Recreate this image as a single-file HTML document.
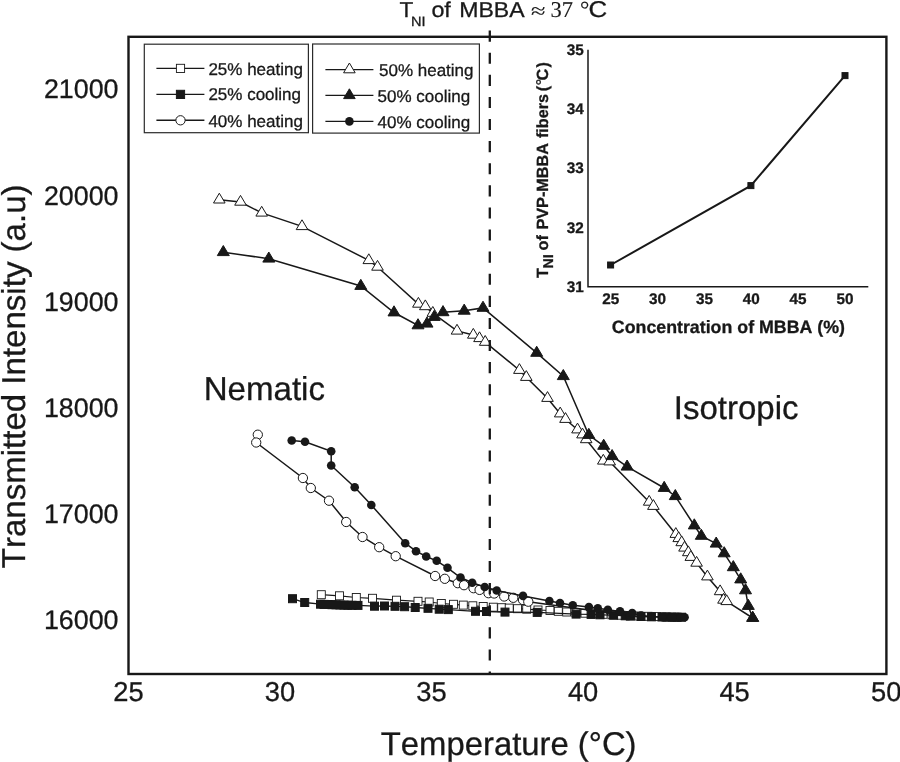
<!DOCTYPE html>
<html lang="en"><head><meta charset="utf-8"><title>Transmitted intensity vs temperature</title>
<style>
html,body{margin:0;padding:0;background:#fff;}
body{width:900px;height:762px;overflow:hidden;}
svg{display:block;}
text{font-family:"Liberation Sans",Arial,Helvetica,sans-serif;fill:#181818;font-kerning:none;text-rendering:geometricPrecision;stroke:#181818;stroke-width:0.3px;}
.serif{font-family:"Liberation Serif","Times New Roman",serif;stroke-width:0.12px;}
.b{font-weight:bold;}
</style></head><body>
<svg width="900" height="762" viewBox="0 0 900 762">
<rect x="0" y="0" width="900" height="762" fill="#fff"/>
<!-- main plot frame -->
<rect x="128.5" y="36.8" width="757.9" height="637.2" fill="none" stroke="#181818" stroke-width="2.4"/>
<!-- top annotation -->
<text transform="translate(399.6 16.8) scale(1.050 1)" font-size="21.50">T</text>
<text transform="translate(410.9 25.7) scale(1.070 1)" font-size="13.60">NI</text>
<text transform="translate(431.4 16.9) scale(1.090 1)" font-size="21.40">of</text>
<text transform="translate(459.2 16.8) scale(1.073 1)" font-size="21.50">MBBA</text>
<text transform="translate(531 18.4) scale(1.237 1)" font-size="21.40" class="serif">≈</text>
<text transform="translate(550.4 16.9) scale(0.992 1)" font-size="22.70" class="serif">37</text>
<text transform="translate(579.9 17) scale(1.000 1)" font-size="23.30" class="serif">°</text>
<text transform="translate(588.4 17.1) scale(1.134 1)" font-size="22.80">C</text>
<!-- y axis tick labels -->
<text x="118.5" y="98.4" font-size="26.8" text-anchor="end">21000</text>
<text x="118.5" y="204.6" font-size="26.8" text-anchor="end">20000</text>
<text x="118.5" y="310.7" font-size="26.8" text-anchor="end">19000</text>
<text x="118.5" y="416.9" font-size="26.8" text-anchor="end">18000</text>
<text x="118.5" y="523" font-size="26.8" text-anchor="end">17000</text>
<text x="118.5" y="629.1" font-size="26.8" text-anchor="end">16000</text>
<!-- x axis tick labels -->
<text x="128.4" y="700.8" font-size="27.3" text-anchor="middle">25</text>
<text x="280" y="700.8" font-size="27.3" text-anchor="middle">30</text>
<text x="431.5" y="700.8" font-size="27.3" text-anchor="middle">35</text>
<text x="583.1" y="700.8" font-size="27.3" text-anchor="middle">40</text>
<text x="734.6" y="700.8" font-size="27.3" text-anchor="middle">45</text>
<text x="886.2" y="700.8" font-size="27.3" text-anchor="middle">50</text>
<!-- axis titles -->
<text x="380.8" y="755" font-size="32.85">Temperature (°C)</text>
<text transform="translate(25.2 568.3) rotate(-90)" font-size="33.05">Transmitted Intensity (a.u)</text>
<text x="203.7" y="400" font-size="33.1">Nematic</text>
<text x="673.8" y="418.7" font-size="33">Isotropic</text>
<!-- legend boxes -->
<rect x="144.3" y="44.2" width="164.1" height="88.5" fill="#fff" stroke="#2b2b2b" stroke-width="1.2"/>
<rect x="312.6" y="44" width="166.8" height="89.1" fill="#fff" stroke="#2b2b2b" stroke-width="1.2"/>
<line x1="156.4" y1="68.4" x2="204.4" y2="68.4" stroke="#181818" stroke-width="1.4"/>
<rect x="176.4" y="64.3" width="8.2" height="8.2" fill="#fff" stroke="#181818" stroke-width="0.9"/>
<text x="208.4" y="74.7" font-size="17">25% heating</text>
<line x1="156.4" y1="94.4" x2="204.4" y2="94.4" stroke="#181818" stroke-width="1.4"/>
<rect x="176.4" y="90.3" width="8.2" height="8.2" fill="#181818" stroke="#181818" stroke-width="1"/>
<text x="208.4" y="100.1" font-size="17">25% cooling</text>
<line x1="156.4" y1="120.3" x2="204.4" y2="120.3" stroke="#181818" stroke-width="1.4"/>
<circle cx="180.5" cy="120.3" r="4.65" fill="#fff" stroke="#181818" stroke-width="1"/>
<text x="208.4" y="126.5" font-size="17">40% heating</text>
<line x1="325.4" y1="69.6" x2="373.4" y2="69.6" stroke="#181818" stroke-width="1.4"/>
<polygon points="349.4,63 343.6,72.8 355.2,72.8" fill="#fff" stroke="#181818" stroke-width="1"/>
<text x="379" y="76.2" font-size="17">50% heating</text>
<line x1="325.4" y1="95.4" x2="373.4" y2="95.4" stroke="#181818" stroke-width="1.4"/>
<polygon points="349.4,88.8 343.6,98.6 355.2,98.6" fill="#181818" stroke="#181818" stroke-width="1"/>
<text x="377.6" y="101.6" font-size="17">50% cooling</text>
<line x1="325.4" y1="121.4" x2="373.4" y2="121.4" stroke="#181818" stroke-width="1.4"/>
<circle cx="349.4" cy="121.4" r="4.3" fill="#181818"/>
<text x="377.6" y="127.6" font-size="17">40% cooling</text>
<!-- 25% heating -->
<g>
<polyline fill="none" stroke="#181818" stroke-width="1.25" points="321.3,594.7 339.5,595.8 356.3,597.5 372.5,598.3 396.5,600.2 418,601.3 429.2,602 441.3,603.5 453.5,604.3 463.3,605.1 472.8,605.8 483.2,606.5 493.3,607.2 501.7,607.7 509.2,608.1 517.5,608.7 526.7,609.2 538,610 550,610.5 558.3,611.3 566.7,612 576,612.6 585,613.2 594,613.8 603,614.3 612,614.8 621,615.2 630,615.6 639,616 648,616.3 657,616.6 666,616.9 675,617.2"/>
<rect x="317.3" y="590.7" width="8" height="8" fill="#fff" stroke="#181818" stroke-width="0.9"/>
<rect x="335.5" y="591.8" width="8" height="8" fill="#fff" stroke="#181818" stroke-width="0.9"/>
<rect x="352.3" y="593.5" width="8" height="8" fill="#fff" stroke="#181818" stroke-width="0.9"/>
<rect x="368.5" y="594.3" width="8" height="8" fill="#fff" stroke="#181818" stroke-width="0.9"/>
<rect x="392.5" y="596.2" width="8" height="8" fill="#fff" stroke="#181818" stroke-width="0.9"/>
<rect x="414" y="597.3" width="8" height="8" fill="#fff" stroke="#181818" stroke-width="0.9"/>
<rect x="425.2" y="598" width="8" height="8" fill="#fff" stroke="#181818" stroke-width="0.9"/>
<rect x="437.3" y="599.5" width="8" height="8" fill="#fff" stroke="#181818" stroke-width="0.9"/>
<rect x="449.5" y="600.3" width="8" height="8" fill="#fff" stroke="#181818" stroke-width="0.9"/>
<rect x="459.3" y="601.1" width="8" height="8" fill="#fff" stroke="#181818" stroke-width="0.9"/>
<rect x="468.8" y="601.8" width="8" height="8" fill="#fff" stroke="#181818" stroke-width="0.9"/>
<rect x="479.2" y="602.5" width="8" height="8" fill="#fff" stroke="#181818" stroke-width="0.9"/>
<rect x="489.3" y="603.2" width="8" height="8" fill="#fff" stroke="#181818" stroke-width="0.9"/>
<rect x="497.7" y="603.7" width="8" height="8" fill="#fff" stroke="#181818" stroke-width="0.9"/>
<rect x="505.2" y="604.1" width="8" height="8" fill="#fff" stroke="#181818" stroke-width="0.9"/>
<rect x="513.5" y="604.7" width="8" height="8" fill="#fff" stroke="#181818" stroke-width="0.9"/>
<rect x="522.7" y="605.2" width="8" height="8" fill="#fff" stroke="#181818" stroke-width="0.9"/>
<rect x="534" y="606" width="8" height="8" fill="#fff" stroke="#181818" stroke-width="0.9"/>
<rect x="546" y="606.5" width="8" height="8" fill="#fff" stroke="#181818" stroke-width="0.9"/>
<rect x="554.3" y="607.3" width="8" height="8" fill="#fff" stroke="#181818" stroke-width="0.9"/>
<rect x="562.7" y="608" width="8" height="8" fill="#fff" stroke="#181818" stroke-width="0.9"/>
<rect x="572" y="608.6" width="8" height="8" fill="#fff" stroke="#181818" stroke-width="0.9"/>
<rect x="581" y="609.2" width="8" height="8" fill="#fff" stroke="#181818" stroke-width="0.9"/>
<rect x="590" y="609.8" width="8" height="8" fill="#fff" stroke="#181818" stroke-width="0.9"/>
<rect x="599" y="610.3" width="8" height="8" fill="#fff" stroke="#181818" stroke-width="0.9"/>
<rect x="608" y="610.8" width="8" height="8" fill="#fff" stroke="#181818" stroke-width="0.9"/>
<rect x="617" y="611.2" width="8" height="8" fill="#fff" stroke="#181818" stroke-width="0.9"/>
<rect x="626" y="611.6" width="8" height="8" fill="#fff" stroke="#181818" stroke-width="0.9"/>
<rect x="635" y="612" width="8" height="8" fill="#fff" stroke="#181818" stroke-width="0.9"/>
<rect x="644" y="612.3" width="8" height="8" fill="#fff" stroke="#181818" stroke-width="0.9"/>
<rect x="653" y="612.6" width="8" height="8" fill="#fff" stroke="#181818" stroke-width="0.9"/>
<rect x="662" y="612.9" width="8" height="8" fill="#fff" stroke="#181818" stroke-width="0.9"/>
<rect x="671" y="613.2" width="8" height="8" fill="#fff" stroke="#181818" stroke-width="0.9"/>
</g>
<!-- 25% cooling -->
<g>
<polyline fill="none" stroke="#181818" stroke-width="1.3" points="292.5,598.7 304.7,602.5 320.5,604.2 324,604.4 328,604.5 332,604.7 336,604.8 340,605 344,605.1 348,605.2 352,605.3 358,605.4 374.5,606.2 384.5,606 395,606.3 404.6,606.7 415.2,607.5 428,608.3 439.2,609.2 448.3,609.6 475.5,611.3 486.5,611.5 505,612.1 537.2,612.4 576.1,614.1 591.1,614.4 600,614.8 613.6,615.2 625.2,615.8 630.4,616.1 641,616.5 651.4,616.8 662,617 667,617.1 672,617.1 677,617.2 681.5,617.2"/>
<rect x="288.5" y="594.7" width="8" height="8" fill="#181818" stroke="#181818" stroke-width="1"/>
<rect x="300.7" y="598.5" width="8" height="8" fill="#181818" stroke="#181818" stroke-width="1"/>
<rect x="316.5" y="600.2" width="8" height="8" fill="#181818" stroke="#181818" stroke-width="1"/>
<rect x="320" y="600.4" width="8" height="8" fill="#181818" stroke="#181818" stroke-width="1"/>
<rect x="324" y="600.5" width="8" height="8" fill="#181818" stroke="#181818" stroke-width="1"/>
<rect x="328" y="600.7" width="8" height="8" fill="#181818" stroke="#181818" stroke-width="1"/>
<rect x="332" y="600.8" width="8" height="8" fill="#181818" stroke="#181818" stroke-width="1"/>
<rect x="336" y="601" width="8" height="8" fill="#181818" stroke="#181818" stroke-width="1"/>
<rect x="340" y="601.1" width="8" height="8" fill="#181818" stroke="#181818" stroke-width="1"/>
<rect x="344" y="601.2" width="8" height="8" fill="#181818" stroke="#181818" stroke-width="1"/>
<rect x="348" y="601.3" width="8" height="8" fill="#181818" stroke="#181818" stroke-width="1"/>
<rect x="354" y="601.4" width="8" height="8" fill="#181818" stroke="#181818" stroke-width="1"/>
<rect x="370.5" y="602.2" width="8" height="8" fill="#181818" stroke="#181818" stroke-width="1"/>
<rect x="380.5" y="602" width="8" height="8" fill="#181818" stroke="#181818" stroke-width="1"/>
<rect x="391" y="602.3" width="8" height="8" fill="#181818" stroke="#181818" stroke-width="1"/>
<rect x="400.6" y="602.7" width="8" height="8" fill="#181818" stroke="#181818" stroke-width="1"/>
<rect x="411.2" y="603.5" width="8" height="8" fill="#181818" stroke="#181818" stroke-width="1"/>
<rect x="424" y="604.3" width="8" height="8" fill="#181818" stroke="#181818" stroke-width="1"/>
<rect x="435.2" y="605.2" width="8" height="8" fill="#181818" stroke="#181818" stroke-width="1"/>
<rect x="444.3" y="605.6" width="8" height="8" fill="#181818" stroke="#181818" stroke-width="1"/>
<rect x="471.5" y="607.3" width="8" height="8" fill="#181818" stroke="#181818" stroke-width="1"/>
<rect x="482.5" y="607.5" width="8" height="8" fill="#181818" stroke="#181818" stroke-width="1"/>
<rect x="501" y="608.1" width="8" height="8" fill="#181818" stroke="#181818" stroke-width="1"/>
<rect x="533.2" y="608.4" width="8" height="8" fill="#181818" stroke="#181818" stroke-width="1"/>
<rect x="572.1" y="610.1" width="8" height="8" fill="#181818" stroke="#181818" stroke-width="1"/>
<rect x="587.1" y="610.4" width="8" height="8" fill="#181818" stroke="#181818" stroke-width="1"/>
<rect x="596" y="610.8" width="8" height="8" fill="#181818" stroke="#181818" stroke-width="1"/>
<rect x="609.6" y="611.2" width="8" height="8" fill="#181818" stroke="#181818" stroke-width="1"/>
<rect x="621.2" y="611.8" width="8" height="8" fill="#181818" stroke="#181818" stroke-width="1"/>
<rect x="626.4" y="612.1" width="8" height="8" fill="#181818" stroke="#181818" stroke-width="1"/>
<rect x="637" y="612.5" width="8" height="8" fill="#181818" stroke="#181818" stroke-width="1"/>
<rect x="647.4" y="612.8" width="8" height="8" fill="#181818" stroke="#181818" stroke-width="1"/>
<rect x="658" y="613" width="8" height="8" fill="#181818" stroke="#181818" stroke-width="1"/>
<rect x="663" y="613.1" width="8" height="8" fill="#181818" stroke="#181818" stroke-width="1"/>
<rect x="668" y="613.1" width="8" height="8" fill="#181818" stroke="#181818" stroke-width="1"/>
<rect x="673" y="613.2" width="8" height="8" fill="#181818" stroke="#181818" stroke-width="1"/>
<rect x="677.5" y="613.2" width="8" height="8" fill="#181818" stroke="#181818" stroke-width="1"/>
</g>
<!-- 40% heating -->
<g>
<polyline fill="none" stroke="#181818" stroke-width="1.5" points="257.8,434.7 256.2,442.5 302.9,478 310.8,488 329,500.7 346.2,522 362.5,537 379.2,547.2 395.7,556.2 435.1,576 444.8,578.8 457.8,583.2 464,585.2 473.5,588.2 479.6,589.9 488.5,593.2 494.2,593.5 504.2,596.5 513.3,597.8 523,600 528.3,601.7 640,617"/>
<circle cx="257.8" cy="434.7" r="4.65" fill="#fff" stroke="#181818" stroke-width="1"/>
<circle cx="256.2" cy="442.5" r="4.65" fill="#fff" stroke="#181818" stroke-width="1"/>
<circle cx="302.9" cy="478" r="4.65" fill="#fff" stroke="#181818" stroke-width="1"/>
<circle cx="310.8" cy="488" r="4.65" fill="#fff" stroke="#181818" stroke-width="1"/>
<circle cx="329" cy="500.7" r="4.65" fill="#fff" stroke="#181818" stroke-width="1"/>
<circle cx="346.2" cy="522" r="4.65" fill="#fff" stroke="#181818" stroke-width="1"/>
<circle cx="362.5" cy="537" r="4.65" fill="#fff" stroke="#181818" stroke-width="1"/>
<circle cx="379.2" cy="547.2" r="4.65" fill="#fff" stroke="#181818" stroke-width="1"/>
<circle cx="395.7" cy="556.2" r="4.65" fill="#fff" stroke="#181818" stroke-width="1"/>
<circle cx="435.1" cy="576" r="4.65" fill="#fff" stroke="#181818" stroke-width="1"/>
<circle cx="444.8" cy="578.8" r="4.65" fill="#fff" stroke="#181818" stroke-width="1"/>
<circle cx="457.8" cy="583.2" r="4.65" fill="#fff" stroke="#181818" stroke-width="1"/>
<circle cx="464" cy="585.2" r="4.65" fill="#fff" stroke="#181818" stroke-width="1"/>
<circle cx="473.5" cy="588.2" r="4.65" fill="#fff" stroke="#181818" stroke-width="1"/>
<circle cx="479.6" cy="589.9" r="4.65" fill="#fff" stroke="#181818" stroke-width="1"/>
<circle cx="488.5" cy="593.2" r="4.65" fill="#fff" stroke="#181818" stroke-width="1"/>
<circle cx="494.2" cy="593.5" r="4.65" fill="#fff" stroke="#181818" stroke-width="1"/>
<circle cx="504.2" cy="596.5" r="4.65" fill="#fff" stroke="#181818" stroke-width="1"/>
<circle cx="513.3" cy="597.8" r="4.65" fill="#fff" stroke="#181818" stroke-width="1"/>
<circle cx="523" cy="600" r="4.65" fill="#fff" stroke="#181818" stroke-width="1"/>
<circle cx="528.3" cy="601.7" r="4.65" fill="#fff" stroke="#181818" stroke-width="1"/>
</g>
<!-- 50% heating -->
<g>
<polyline fill="none" stroke="#181818" stroke-width="1.5" points="219.3,199.8 240.5,202 261.7,212.9 302,226.4 368.8,260.4 377.5,267 418.4,304 425.3,306.5 432.8,313.1 457,330.9 473.3,335 479.5,338.4 485.2,342.1 519.4,370.2 526.3,377.2 547.5,398.2 560.2,413.7 565.5,419.2 577.5,429.7 582.5,434.7 586.2,439.5 603.3,460.9 609.7,461.7 649.2,502 653.4,506.2 675.8,534.2 678.7,538.4 681.7,542.5 684.5,547.9 688.3,552.5 690.8,557.2 696.6,563 707.4,576.7 720.1,591.5 723.5,600 726.7,601.4 752.7,618"/>
<polygon points="219.3,193.2 213.5,203 225.1,203" fill="#fff" stroke="#181818" stroke-width="1"/>
<polygon points="240.5,195.4 234.7,205.2 246.3,205.2" fill="#fff" stroke="#181818" stroke-width="1"/>
<polygon points="261.7,206.3 255.9,216.1 267.5,216.1" fill="#fff" stroke="#181818" stroke-width="1"/>
<polygon points="302,219.8 296.2,229.6 307.8,229.6" fill="#fff" stroke="#181818" stroke-width="1"/>
<polygon points="368.8,253.8 363,263.6 374.6,263.6" fill="#fff" stroke="#181818" stroke-width="1"/>
<polygon points="377.5,260.4 371.7,270.2 383.3,270.2" fill="#fff" stroke="#181818" stroke-width="1"/>
<polygon points="418.4,297.4 412.6,307.2 424.2,307.2" fill="#fff" stroke="#181818" stroke-width="1"/>
<polygon points="425.3,299.9 419.5,309.7 431.1,309.7" fill="#fff" stroke="#181818" stroke-width="1"/>
<polygon points="432.8,306.5 427,316.3 438.6,316.3" fill="#fff" stroke="#181818" stroke-width="1"/>
<polygon points="457,324.3 451.2,334.1 462.8,334.1" fill="#fff" stroke="#181818" stroke-width="1"/>
<polygon points="473.3,328.4 467.5,338.2 479.1,338.2" fill="#fff" stroke="#181818" stroke-width="1"/>
<polygon points="479.5,331.8 473.7,341.6 485.3,341.6" fill="#fff" stroke="#181818" stroke-width="1"/>
<polygon points="485.2,335.5 479.4,345.3 491,345.3" fill="#fff" stroke="#181818" stroke-width="1"/>
<polygon points="519.4,363.6 513.6,373.4 525.2,373.4" fill="#fff" stroke="#181818" stroke-width="1"/>
<polygon points="526.3,370.6 520.5,380.4 532.1,380.4" fill="#fff" stroke="#181818" stroke-width="1"/>
<polygon points="547.5,391.6 541.7,401.4 553.3,401.4" fill="#fff" stroke="#181818" stroke-width="1"/>
<polygon points="560.2,407.1 554.4,416.9 566,416.9" fill="#fff" stroke="#181818" stroke-width="1"/>
<polygon points="565.5,412.6 559.7,422.4 571.3,422.4" fill="#fff" stroke="#181818" stroke-width="1"/>
<polygon points="577.5,423.1 571.7,432.9 583.3,432.9" fill="#fff" stroke="#181818" stroke-width="1"/>
<polygon points="582.5,428.1 576.7,437.9 588.3,437.9" fill="#fff" stroke="#181818" stroke-width="1"/>
<polygon points="586.2,432.9 580.4,442.7 592,442.7" fill="#fff" stroke="#181818" stroke-width="1"/>
<polygon points="603.3,454.3 597.5,464.1 609.1,464.1" fill="#fff" stroke="#181818" stroke-width="1"/>
<polygon points="609.7,455.1 603.9,464.9 615.5,464.9" fill="#fff" stroke="#181818" stroke-width="1"/>
<polygon points="649.2,495.4 643.4,505.2 655,505.2" fill="#fff" stroke="#181818" stroke-width="1"/>
<polygon points="653.4,499.6 647.6,509.4 659.2,509.4" fill="#fff" stroke="#181818" stroke-width="1"/>
<polygon points="675.8,527.6 670,537.4 681.6,537.4" fill="#fff" stroke="#181818" stroke-width="1"/>
<polygon points="678.7,531.8 672.9,541.6 684.5,541.6" fill="#fff" stroke="#181818" stroke-width="1"/>
<polygon points="681.7,535.9 675.9,545.7 687.5,545.7" fill="#fff" stroke="#181818" stroke-width="1"/>
<polygon points="684.5,541.3 678.7,551.1 690.3,551.1" fill="#fff" stroke="#181818" stroke-width="1"/>
<polygon points="688.3,545.9 682.5,555.7 694.1,555.7" fill="#fff" stroke="#181818" stroke-width="1"/>
<polygon points="690.8,550.6 685,560.4 696.6,560.4" fill="#fff" stroke="#181818" stroke-width="1"/>
<polygon points="696.6,556.4 690.8,566.2 702.4,566.2" fill="#fff" stroke="#181818" stroke-width="1"/>
<polygon points="707.4,570.1 701.6,579.9 713.2,579.9" fill="#fff" stroke="#181818" stroke-width="1"/>
<polygon points="720.1,584.9 714.3,594.7 725.9,594.7" fill="#fff" stroke="#181818" stroke-width="1"/>
<polygon points="723.5,593.4 717.7,603.2 729.3,603.2" fill="#fff" stroke="#181818" stroke-width="1"/>
<polygon points="726.7,594.8 720.9,604.6 732.5,604.6" fill="#fff" stroke="#181818" stroke-width="1"/>
<polygon points="752.7,611.4 746.9,621.2 758.5,621.2" fill="#fff" stroke="#181818" stroke-width="1"/>
</g>
<!-- 50% cooling -->
<g>
<polyline fill="none" stroke="#181818" stroke-width="1.5" points="223.3,252.2 268.8,258.7 360.8,286 394,312.5 418,325.4 427,323.7 434.2,317 443,312.3 464.2,310.8 483,307.9 536.7,352.9 563.3,376.2 588.8,435 603.7,445.9 612.1,456.2 627.1,466.7 664.2,488 675.3,496.2 694.3,525.5 701.3,535.9 716.2,543.7 724.2,553.4 733.3,567.3 740.7,579.5 745.5,590.4 748.3,606 752.7,618"/>
<polygon points="223.3,245.5 217.3,255.6 229.3,255.6" fill="#181818" stroke="#181818" stroke-width="1"/>
<polygon points="268.8,252 262.8,262.1 274.8,262.1" fill="#181818" stroke="#181818" stroke-width="1"/>
<polygon points="360.8,279.3 354.8,289.4 366.8,289.4" fill="#181818" stroke="#181818" stroke-width="1"/>
<polygon points="394,305.8 388,315.9 400,315.9" fill="#181818" stroke="#181818" stroke-width="1"/>
<polygon points="418,318.7 412,328.8 424,328.8" fill="#181818" stroke="#181818" stroke-width="1"/>
<polygon points="427,317 421,327.1 433,327.1" fill="#181818" stroke="#181818" stroke-width="1"/>
<polygon points="434.2,310.3 428.2,320.4 440.2,320.4" fill="#181818" stroke="#181818" stroke-width="1"/>
<polygon points="443,305.6 437,315.7 449,315.7" fill="#181818" stroke="#181818" stroke-width="1"/>
<polygon points="464.2,304.1 458.2,314.2 470.2,314.2" fill="#181818" stroke="#181818" stroke-width="1"/>
<polygon points="483,301.2 477,311.3 489,311.3" fill="#181818" stroke="#181818" stroke-width="1"/>
<polygon points="536.7,346.2 530.7,356.3 542.7,356.3" fill="#181818" stroke="#181818" stroke-width="1"/>
<polygon points="563.3,369.5 557.3,379.6 569.3,379.6" fill="#181818" stroke="#181818" stroke-width="1"/>
<polygon points="588.8,428.3 582.8,438.4 594.8,438.4" fill="#181818" stroke="#181818" stroke-width="1"/>
<polygon points="603.7,439.2 597.7,449.3 609.7,449.3" fill="#181818" stroke="#181818" stroke-width="1"/>
<polygon points="612.1,449.5 606.1,459.6 618.1,459.6" fill="#181818" stroke="#181818" stroke-width="1"/>
<polygon points="627.1,460 621.1,470.1 633.1,470.1" fill="#181818" stroke="#181818" stroke-width="1"/>
<polygon points="664.2,481.3 658.2,491.4 670.2,491.4" fill="#181818" stroke="#181818" stroke-width="1"/>
<polygon points="675.3,489.5 669.3,499.6 681.3,499.6" fill="#181818" stroke="#181818" stroke-width="1"/>
<polygon points="694.3,518.8 688.3,528.9 700.3,528.9" fill="#181818" stroke="#181818" stroke-width="1"/>
<polygon points="701.3,529.2 695.3,539.3 707.3,539.3" fill="#181818" stroke="#181818" stroke-width="1"/>
<polygon points="716.2,537 710.2,547.1 722.2,547.1" fill="#181818" stroke="#181818" stroke-width="1"/>
<polygon points="724.2,546.7 718.2,556.8 730.2,556.8" fill="#181818" stroke="#181818" stroke-width="1"/>
<polygon points="733.3,560.6 727.3,570.7 739.3,570.7" fill="#181818" stroke="#181818" stroke-width="1"/>
<polygon points="740.7,572.8 734.7,582.9 746.7,582.9" fill="#181818" stroke="#181818" stroke-width="1"/>
<polygon points="745.5,583.7 739.5,593.8 751.5,593.8" fill="#181818" stroke="#181818" stroke-width="1"/>
<polygon points="748.3,599.3 742.3,609.4 754.3,609.4" fill="#181818" stroke="#181818" stroke-width="1"/>
<polygon points="752.7,611.3 746.7,621.4 758.7,621.4" fill="#181818" stroke="#181818" stroke-width="1"/>
</g>
<!-- 40% cooling -->
<g>
<polyline fill="none" stroke="#181818" stroke-width="1.5" points="291.7,440.5 305,441.7 331.2,451.2 331.2,465.5 354.7,487.3 371.3,505 405.2,543.2 416,551.2 426.2,556.5 436.7,560.8 447.5,567.8 460.5,577.5 472.2,582.8 484.7,587 496.7,590.5 523,595.9 549.4,601 560,603 572.8,605.2 588.9,607.1 597.8,608.2 607.8,609.8 620,611.4 632.2,613 641,615.5 651.4,616.5 662,617 672,617.2 681,617.3 684.6,617.3"/>
<circle cx="291.7" cy="440.5" r="4.3" fill="#181818"/>
<circle cx="305" cy="441.7" r="4.3" fill="#181818"/>
<circle cx="331.2" cy="451.2" r="4.3" fill="#181818"/>
<circle cx="331.2" cy="465.5" r="4.3" fill="#181818"/>
<circle cx="354.7" cy="487.3" r="4.3" fill="#181818"/>
<circle cx="371.3" cy="505" r="4.3" fill="#181818"/>
<circle cx="405.2" cy="543.2" r="4.3" fill="#181818"/>
<circle cx="416" cy="551.2" r="4.3" fill="#181818"/>
<circle cx="426.2" cy="556.5" r="4.3" fill="#181818"/>
<circle cx="436.7" cy="560.8" r="4.3" fill="#181818"/>
<circle cx="447.5" cy="567.8" r="4.3" fill="#181818"/>
<circle cx="460.5" cy="577.5" r="4.3" fill="#181818"/>
<circle cx="472.2" cy="582.8" r="4.3" fill="#181818"/>
<circle cx="484.7" cy="587" r="4.3" fill="#181818"/>
<circle cx="496.7" cy="590.5" r="4.3" fill="#181818"/>
<circle cx="523" cy="595.9" r="4.3" fill="#181818"/>
<circle cx="549.4" cy="601" r="4.3" fill="#181818"/>
<circle cx="560" cy="603" r="4.3" fill="#181818"/>
<circle cx="572.8" cy="605.2" r="4.3" fill="#181818"/>
<circle cx="588.9" cy="607.1" r="4.3" fill="#181818"/>
<circle cx="597.8" cy="608.2" r="4.3" fill="#181818"/>
<circle cx="607.8" cy="609.8" r="4.3" fill="#181818"/>
<circle cx="620" cy="611.4" r="4.3" fill="#181818"/>
<circle cx="632.2" cy="613" r="4.3" fill="#181818"/>
<circle cx="641" cy="615.5" r="4.3" fill="#181818"/>
<circle cx="651.4" cy="616.5" r="4.3" fill="#181818"/>
<circle cx="662" cy="617" r="4.3" fill="#181818"/>
<circle cx="672" cy="617.2" r="4.3" fill="#181818"/>
<circle cx="681" cy="617.3" r="4.3" fill="#181818"/>
<circle cx="684.6" cy="617.3" r="4.3" fill="#181818"/>
</g>
<!-- T_NI dashed marker line -->
<line x1="489.8" y1="30.6" x2="489.8" y2="673" stroke="#181818" stroke-width="2.3" stroke-dasharray="11.1 11"/>
<!-- inset plot -->
<polyline fill="none" stroke="#181818" stroke-width="1.5" points="588,49.8 588,286.8 868.3,286.8"/>
<text x="583.7" y="54.7" font-size="15.3" class="b" text-anchor="end">35</text>
<text x="583.7" y="114" font-size="15.3" class="b" text-anchor="end">34</text>
<text x="583.7" y="173.3" font-size="15.3" class="b" text-anchor="end">33</text>
<text x="583.7" y="232.7" font-size="15.3" class="b" text-anchor="end">32</text>
<text x="583.7" y="292.1" font-size="15.3" class="b" text-anchor="end">31</text>
<text x="610.7" y="304.2" font-size="15.3" class="b" text-anchor="middle">25</text>
<text x="657.6" y="304.2" font-size="15.3" class="b" text-anchor="middle">30</text>
<text x="704.4" y="304.2" font-size="15.3" class="b" text-anchor="middle">35</text>
<text x="751.3" y="304.2" font-size="15.3" class="b" text-anchor="middle">40</text>
<text x="798.1" y="304.2" font-size="15.3" class="b" text-anchor="middle">45</text>
<text x="845" y="304.2" font-size="15.3" class="b" text-anchor="middle">50</text>
<text x="728.4" y="332.8" font-size="17.8" class="b" text-anchor="middle">Concentration of MBBA (%)</text>
<text transform="translate(0 277.7) rotate(-90)" font-size="16.2" class="b"><tspan x="-0.2" y="547.8">T</tspan><tspan x="9.1" y="553.2" font-size="14.2">NI</tspan><tspan x="27.2" y="547.8">of</tspan><tspan x="48.2" y="547.8">PVP-MBBA</tspan><tspan x="139.6" y="547.8">fibers</tspan><tspan x="186.4" y="547.8">(</tspan><tspan x="192.1" y="548.2" font-weight="normal" font-size="17">°</tspan><tspan x="197.2" y="547.8">C</tspan><tspan x="210.1" y="547.8">)</tspan></text>
<polyline fill="none" stroke="#181818" stroke-width="2.0" points="610.6,265 750.9,185.6 845,75.6"/>
<rect x="607.6" y="262" width="6" height="6" fill="#181818" stroke="#181818" stroke-width="1"/>
<rect x="747.9" y="182.6" width="6" height="6" fill="#181818" stroke="#181818" stroke-width="1"/>
<rect x="842" y="72.6" width="6" height="6" fill="#181818" stroke="#181818" stroke-width="1"/>
</svg>
</body></html>
